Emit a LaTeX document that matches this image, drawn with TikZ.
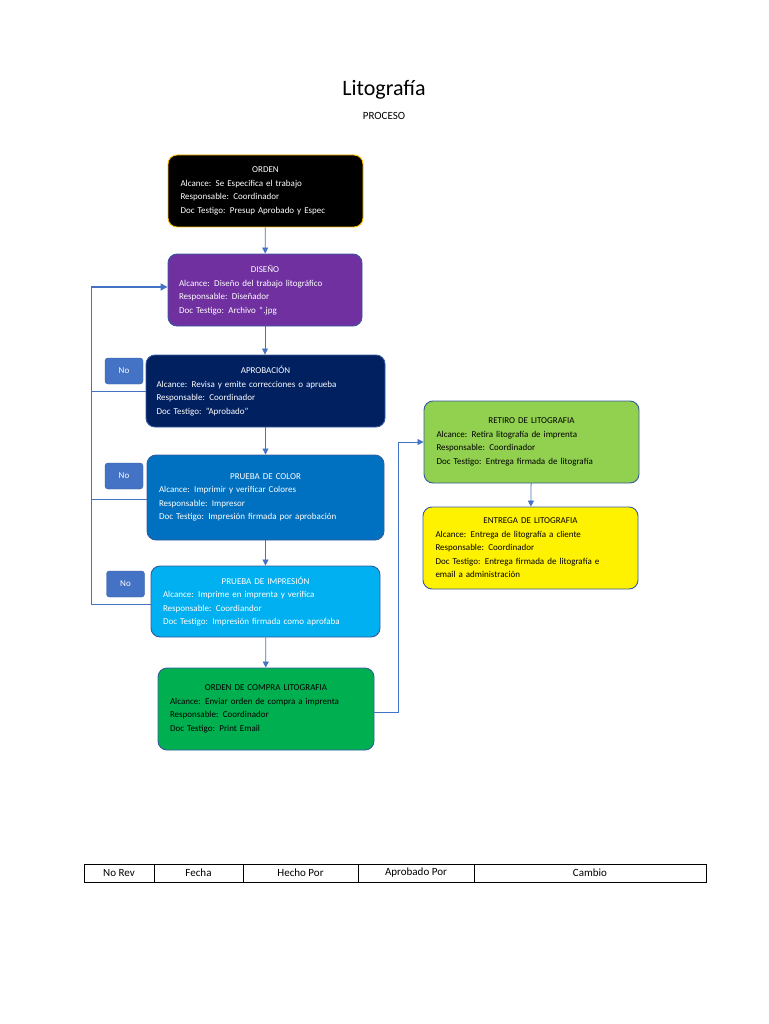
\documentclass[tikz,border=0pt]{standalone}
\usepackage{fontspec}
\setmainfont{Carlito}
\usetikzlibrary{arrows.meta}
\definecolor{lnk}{HTML}{4472C4}
\definecolor{purp}{HTML}{7030A0}
\definecolor{navy}{HTML}{002060}
\definecolor{mblue}{HTML}{0070C0}
\definecolor{sky}{HTML}{00B0F0}
\definecolor{grn}{HTML}{00B050}
\definecolor{lgrn}{HTML}{92D050}
\definecolor{gold}{HTML}{FFC000}
\newcommand{\hd}[1]{\makebox[\linewidth]{#1}\\}
\begin{document}
\begin{tikzpicture}[x=1pt,y=-1pt,
  box/.style={draw=lnk!80!black,line width=0.9pt,rounded corners=9pt,align=left,font=\fontsize{9}{13.5}\selectfont,inner sep=0pt},
  no/.style={draw=lnk!80!black,fill=lnk,rounded corners=3pt,text=white,font=\fontsize{9}{11}\selectfont,minimum width=38pt,minimum height=26pt,inner sep=0pt},
  ar/.style={draw=lnk,line width=0.8pt,-{Triangle[length=6pt,width=6pt]}},
  ln/.style={draw=lnk,line width=0.9pt}]
\useasboundingbox (0,0) rectangle (768,1024);
\fill[white] (0,0) rectangle (768,1024);
\node (title) at (384,90) {\fontsize{22}{26}\selectfont Litografía};
\node (proc) at (384,116) {\fontsize{11}{13}\selectfont PROCESO};

\node[box,fill=black,draw=gold,text=white,minimum width=195pt,minimum height=72pt,text width=170pt] (orden) at (265.5,191) {\hd{ORDEN}Alcance: Se Especifica el trabajo\\Responsable: Coordinador\\Doc Testigo: Presup Aprobado y Espec};
\node[box,fill=purp,text=white,minimum width=194pt,minimum height=72pt,text width=172pt] (dis) at (265,290) {\hd{DISEÑO}Alcance: Diseño del trabajo litográfico\\Responsable: Diseñador\\Doc Testigo: Archivo *.jpg};
\node[box,fill=navy,text=white,minimum width=239pt,minimum height=72pt,text width=218pt] (apr) at (265.5,391) {\hd{APROBACIÓN}Alcance: Revisa y emite correcciones o aprueba\\Responsable: Coordinador\\Doc Testigo: "Aprobado"};
\node[box,fill=mblue,text=white,minimum width=237pt,minimum height=85pt,text width=213pt] (col) at (265.5,497.5) {\hd{PRUEBA DE COLOR}Alcance: Imprimir y verificar Colores\\Responsable: Impresor\\Doc Testigo: Impresión firmada por aprobación};
\node[box,fill=sky,text=white,minimum width=229pt,minimum height=71pt,text width=205pt] (imp) at (265.5,601.5) {\hd{PRUEBA DE IMPRESIÓN}Alcance: Imprime en imprenta y verifica\\Responsable: Coordiandor\\Doc Testigo: Impresión firmada como aprofaba};
\node[box,fill=grn,minimum width=216pt,minimum height=82pt,text width=192pt] (comp) at (266,709) {\hd{ORDEN DE COMPRA LITOGRAFIA}Alcance: Enviar orden de compra a imprenta\\Responsable: Coordinador\\Doc Testigo: Print Email};
\node[box,fill=lgrn,minimum width=215pt,minimum height=82pt,text width=190pt] (ret) at (531.5,442) {\hd{RETIRO DE LITOGRAFIA}Alcance: Retira litografía de imprenta\\Responsable: Coordinador\\Doc Testigo: Entrega firmada de litografía};
\node[box,fill=yellow,minimum width=215pt,minimum height=82pt,text width=190pt] (ent) at (530.5,548) {\hd{ENTREGA DE LITOGRAFIA}Alcance: Entrega de litografía a cliente\\Responsable: Coordinador\\Doc Testigo: Entrega firmada de litografía e\\email a administración};

\node[no] (no1) at (124,371) {No};
\node[no] (no2) at (124,476) {No};
\node[no] (no3) at (125.5,584) {No};

\draw[ar] (orden) -- (dis);
\draw[ar] (dis.south) -- (apr.north -| dis.south);
\draw[ar] (apr) -- (col);
\draw[ar] (col) -- (imp);
\draw[ar] (imp) -- (comp);
\draw[ar] (ret) -- (ent);

\coordinate (ftop) at (91,287);
\coordinate (fbot) at (91,604);
\coordinate (rx) at (398,712);
\draw[ln] (fbot) -- (ftop);
\draw[ln,-{Triangle[length=7pt,width=7pt]},line width=1.6pt] (ftop) -- (dis.west |- ftop);
\draw[ln] (91,391) -- (apr.west |- 0,391);
\draw[ln] (91,499) -- (col.west |- 0,499);
\draw[ln] (fbot) -- (imp.west |- fbot);
\draw[ln] (comp.east |- rx) -- (rx) -- (398,442) -- ++(8,0);
\draw[ar] (398,442) -- (ret.west);

\draw[line width=0.8pt] (84,864) rectangle (706,882);
\foreach \x in {154,243,358,474} \draw[line width=0.8pt] (\x,864) -- (\x,882);
\foreach \t/\x in {No Rev/119,Fecha/198.5,Hecho Por/300.5,Aprobado Por/416,Cambio/590}
  \node[font=\fontsize{11}{13}\selectfont] (c-\x) at (\x,873) {\t};
\end{tikzpicture}
\end{document}
